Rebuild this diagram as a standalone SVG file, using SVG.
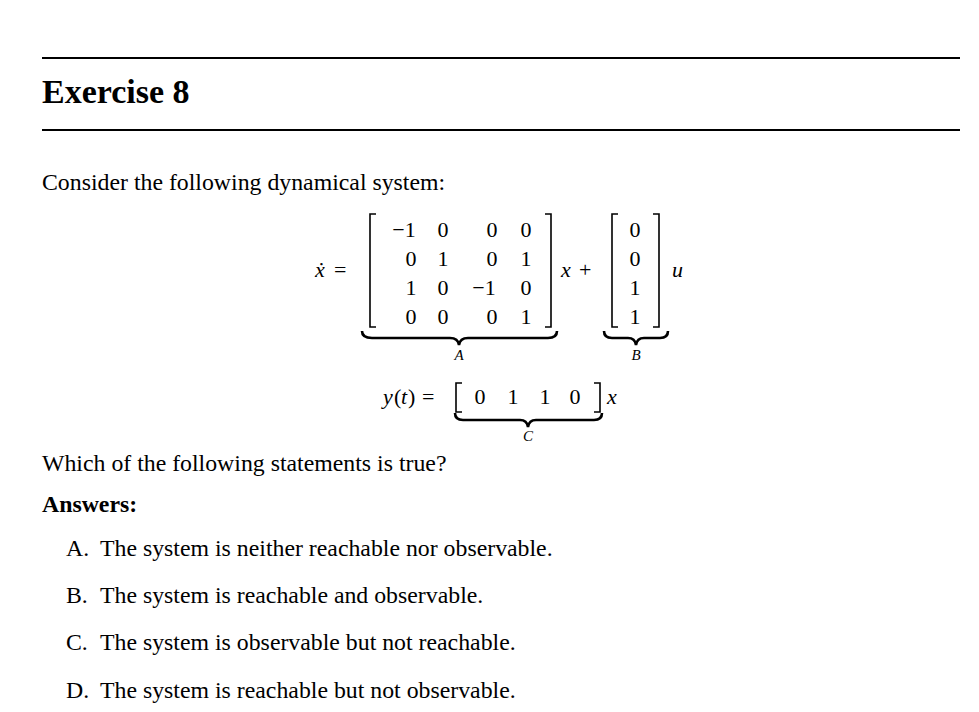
<svg xmlns="http://www.w3.org/2000/svg" width="979" height="712" viewBox="0 0 979 712">
<style>
text{font-family:"Liberation Serif","Times New Roman",serif;fill:#000}
.t{font-size:23.8px}
.m{font-size:22px}
.n{font-size:22px;text-anchor:middle}
.i{font-style:italic}
.s{font-size:15px;font-style:italic;text-anchor:middle}
.br{fill:none;stroke:#000;stroke-width:1.6}
.bc{fill:none;stroke:#000;stroke-width:2.6}
</style>
<rect width="979" height="712" fill="#fff"/>
<line x1="42" y1="58" x2="960" y2="58" stroke="#000" stroke-width="2"/>
<text x="42" y="103" style="font-size:34px;font-weight:bold">Exercise 8</text>
<line x1="42" y1="130" x2="960" y2="130" stroke="#000" stroke-width="2"/>
<text class="t" x="42" y="190">Consider the following dynamical system:</text>
<g id="eq1">
<text class="m i" x="315" y="277">ẋ</text>
<text class="m" x="334" y="277">=</text>
<path class="br" d="M376,214 H370 V327 H376 M545,214 H551 V327 H545"/>
<text class="n" x="404" y="237">−1</text><text class="n" x="443" y="237">0</text><text class="n" x="492" y="237">0</text><text class="n" x="526" y="237">0</text>
<text class="n" x="411" y="266">0</text><text class="n" x="443" y="266">1</text><text class="n" x="492" y="266">0</text><text class="n" x="526" y="266">1</text>
<text class="n" x="411" y="295">1</text><text class="n" x="443" y="295">0</text><text class="n" x="484" y="295">−1</text><text class="n" x="526" y="295">0</text>
<text class="n" x="411" y="324">0</text><text class="n" x="443" y="324">0</text><text class="n" x="492" y="324">0</text><text class="n" x="526" y="324">1</text>
<text class="m i" x="561" y="277">x</text><text class="m" x="579" y="277">+</text>
<path class="br" d="M618,214 H612 V327 H618 M653,214 H659 V327 H653"/>
<text class="n" x="635" y="237">0</text><text class="n" x="635" y="266">0</text><text class="n" x="635" y="295">1</text><text class="n" x="635" y="324">1</text>
<text class="m i" x="672" y="277">u</text>
<path class="bc" d="M362,331 Q362,338 372,338 H450 Q458,338 459,345 Q460,338 468,338 H548 Q557,338 557,331"/>
<text class="s" x="459" y="360">A</text>
<path class="bc" d="M604,331 Q604,338 612,338 H628 Q635,338 636,345 Q637,338 644,338 H660 Q668,338 668,331"/>
<text class="s" x="636" y="360">B</text>
</g>
<g id="eq2">
<text class="m i" x="383" y="404">y</text><text class="m" x="394" y="404">(</text><text class="m i" x="401" y="404">t</text><text class="m" x="408" y="404">)</text>
<text class="m" x="422" y="404">=</text>
<path class="br" d="M462,383 H456 V412 H462 M594,383 H600 V412 H594"/>
<text class="n" x="480" y="404">0</text><text class="n" x="513" y="404">1</text><text class="n" x="545" y="404">1</text><text class="n" x="575" y="404">0</text>
<text class="m i" x="607" y="404">x</text>
<path class="bc" d="M455,413 Q455,420 463,420 H520 Q527,420 528,427 Q529,420 536,420 H594 Q602,420 602,413"/>
<text class="s" x="528" y="441">C</text>
</g>
<text class="t" x="42" y="471">Which of the following statements is true?</text>
<text class="t" x="42" y="512" style="font-weight:bold">Answers:</text>
<g class="t">
<text x="66" y="556">A.</text><text x="100" y="556">The system is neither reachable nor observable.</text>
<text x="66" y="603">B.</text><text x="100" y="603">The system is reachable and observable.</text>
<text x="66" y="650">C.</text><text x="100" y="650">The system is observable but not reachable.</text>
<text x="66" y="698">D.</text><text x="100" y="698">The system is reachable but not observable.</text>
</g>
</svg>
